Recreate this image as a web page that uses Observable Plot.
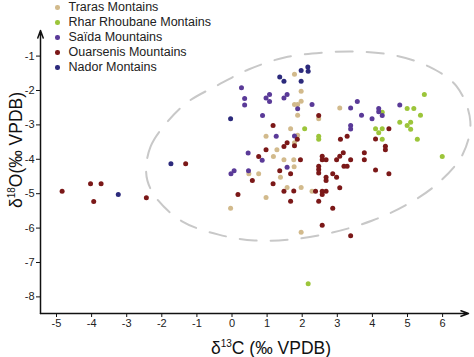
<!DOCTYPE html>
<html>
<head>
<meta charset="utf-8">
<script src="https://cdn.jsdelivr.net/npm/d3@7"></script>
<script src="https://cdn.jsdelivr.net/npm/@observablehq/plot@0.6"></script>
<style>
  html, body { margin: 0; padding: 0; background: #fff; }
  #wrap { position: relative; width: 474px; height: 357px; font-family: "Liberation Sans", Arial, sans-serif; color: #222; }
  #legend { position: absolute; left: 52px; top: 0px; font-size: 12.5px; line-height: 15px; }
  #legend .row { display: flex; align-items: center; height: 15px; }
  #legend .sw { width: 4.5px; height: 4.5px; border-radius: 50%; margin-left: 3px; margin-right: 9px; }
  .title { position: absolute; font-size: 17.5px; white-space: nowrap; color: #111; }
  .title sup { font-size: 10px; vertical-align: 7px; line-height: 0; }
  #xtitle { left: 271px; top: 348px; transform: translate(-50%, -50%); }
  #ytitle { left: 16px; top: 150px; transform: translate(-50%, -50%) rotate(-90deg); }
</style>
</head>
<body>
<div id="wrap">
  <div id="chart"></div>
  <div id="legend"></div>
  <div class="title" id="xtitle">δ<sup>13</sup>C (‰ VPDB)</div>
  <div class="title" id="ytitle">δ<sup>18</sup>O(‰ VPDB)</div>
</div>
<script>
// Series names and colours
const seriesNames = ["Traras Montains", "Rhar Rhoubane Montains", "Saïda Mountains", "Ouarsenis Mountains", "Nador Montains"];
const seriesColors = ["#d2ba8c", "#9cc53a", "#5a3a98", "#7b1818", "#2c2a7c"];

// [δ13C, δ18O] pairs
const traras = [
  [1.78,-1.53],[1.97,-2.02],[1.97,-2.31],[1.87,-2.41],[1.78,-2.41],[1.87,-2.72],[1.67,-3.11],
  [0.97,-3.33],[1.87,-3.30],[1.78,-3.52],[1.28,-3.72],[1.18,-3.92],[1.48,-4.01],[1.76,-4.01],
  [1.77,-4.22],[0.48,-4.42],[0.76,-4.42],[1.38,-4.52],[1.57,-4.82],[1.97,-4.82],[2.28,-4.93],
  [0.97,-5.11],[-0.04,-5.42],[1.97,-6.12],[3.07,-2.51],[2.47,-2.82]
];
const rharRhoubane = [
  [2.07,-3.11],[2.47,-3.33],[2.47,-3.42],[4.28,-2.63],[4.99,-2.52],[5.18,-2.52],[5.48,-2.12],
  [5.37,-2.72],[4.78,-2.92],[5.09,-2.92],[4.99,-3.02],[5.09,-3.13],[5.28,-3.42],[4.09,-3.11],
  [4.28,-3.11],[4.18,-3.23],[4.28,-3.42],[5.99,-3.92],[2.17,-7.62]
];
const saida = [
  [0.27,-1.92],[0.36,-2.23],[0.36,-2.42],[0.97,-2.22],[1.07,-2.12],[1.07,-2.32],[1.48,-2.22],
  [1.57,-2.12],[1.87,-2.53],[0.87,-2.73],[1.26,-3.33],[1.78,-3.32],[0.46,-3.82],[0.86,-4.03],
  [1.57,-4.23],[0.06,-4.33],[-0.03,-4.42],[0.47,-4.33],[2.28,-2.41],[3.38,-2.51],[3.57,-2.32],
  [3.69,-2.72],[3.99,-2.82],[4.18,-2.52],[4.18,-2.62],[4.28,-2.73],[4.78,-2.42],[3.38,-3.02],[3.38,-3.12]
];
const ouarsenis = [
  [-4.84,-4.93],[-4.03,-4.71],[-3.73,-4.71],[-3.94,-5.23],[-2.44,-5.12],[-1.32,-4.13],
  [1.17,-3.02],[1.86,-3.42],[1.57,-3.52],[1.48,-3.63],[1.78,-3.61],[0.97,-3.72],[0.76,-3.92],
  [1.95,-4.01],[1.36,-4.33],[1.67,-4.42],[0.58,-4.62],[1.17,-4.71],[1.76,-4.92],[1.48,-4.93],
  [0.17,-5.02],[2.47,-2.73],[3.09,-3.42],[3.28,-3.33],[2.57,-3.91],[2.57,-4.01],[2.68,-4.01],
  [3.17,-3.81],[3.07,-3.91],[2.98,-4.01],[3.38,-4.01],[2.47,-4.20],[2.47,-4.30],[2.47,-4.40],
  [3.19,-4.20],[3.28,-4.20],[2.87,-4.42],[2.68,-4.52],[2.68,-4.62],[2.98,-4.52],[3.07,-4.83],
  [2.38,-4.93],[2.57,-4.93],[2.68,-4.93],[2.57,-5.02],[1.67,-5.22],[2.47,-5.22],[2.87,-5.42],
  [2.57,-5.92],[3.38,-6.22],[4.47,-3.11],[4.09,-3.41],[4.37,-3.62],[4.37,-3.72],[3.77,-3.81],
  [3.77,-4.01],[4.09,-4.31],[4.47,-4.42]
];
const nador = [
  [1.36,-1.61],[1.48,-1.73],[1.97,-1.42],[2.16,-1.32],[2.17,-1.44],[1.97,-1.73],
  [-0.04,-2.82],[-1.74,-4.13],[-3.24,-5.02]
];

// Dashed envelope outline
const envelope = [
  [-2.44,-4.15],[-2.32,-3.63],[-2.04,-3.16],[-1.32,-2.38],[-0.38,-1.83],[0.47,-1.39],[1.50,-1.04],
  [2.58,-0.90],[3.60,-0.87],[4.63,-0.98],[5.60,-1.30],[6.40,-1.88],[6.79,-2.90],[6.57,-3.86],
  [5.83,-4.73],[4.94,-5.34],[4.00,-5.78],[2.86,-6.13],[1.70,-6.33],[0.64,-6.36],[-0.38,-6.19],
  [-1.41,-5.81],[-2.15,-5.14],[-2.41,-4.62]
];

// Axis ticks and extents
const xTicks = [-5,-4,-3,-2,-1,0,1,2,3,4,5,6];
const yTicks = [-1,-2,-3,-4,-5,-6,-7,-8];
const xDomain = [-5.456, 6.738];
const yDomain = [-8.483, -0.256];

const seriesPts = [traras, rharRhoubane, saida, ouarsenis, nador];
const dots = seriesPts.flatMap((pts, i) => pts.map(([x, y]) => ({x, y, s: seriesNames[i]})));

const plot = Plot.plot({
  width: 474,
  height: 357,
  marginLeft: 40,
  marginRight: 6,
  marginTop: 30,
  marginBottom: 44,
  style: {fontFamily: "Liberation Sans, Arial, sans-serif", fontSize: "11px", color: "#222", background: "transparent"},
  x: {domain: xDomain},
  y: {domain: yDomain},
  color: {domain: seriesNames, range: seriesColors},
  marks: [
    Plot.line(envelope, {x: d => d[0], y: d => d[1], curve: "catmull-rom-closed", stroke: "#c8c8c8", strokeWidth: 2, strokeDasharray: "17,14"}),
    Plot.dot(dots, {x: "x", y: "y", fill: "s", r: 2.5}),
    Plot.arrow([{x1: xDomain[0], y1: yDomain[0], x2: xDomain[1], y2: yDomain[0]}], {x1: "x1", y1: "y1", x2: "x2", y2: "y2", stroke: "#111", strokeWidth: 1.5, headLength: 8, headAngle: 40}),
    Plot.arrow([{x1: xDomain[0], y1: yDomain[0], x2: xDomain[0], y2: yDomain[1]}], {x1: "x1", y1: "y1", x2: "x2", y2: "y2", stroke: "#111", strokeWidth: 1.5, headLength: 8, headAngle: 40}),
    Plot.axisX({ticks: xTicks, tickSize: 4, tickPadding: 2, label: null, stroke: "#111", tickFormat: d => String(d)}),
    Plot.axisY({ticks: yTicks, tickSize: 4, tickPadding: 2, label: null, stroke: "#111", tickFormat: d => String(d)})
  ]
});
document.getElementById("chart").appendChild(plot);

const legend = document.getElementById("legend");
seriesNames.forEach((n, i) => {
  const row = document.createElement("div");
  row.className = "row";
  const sw = document.createElement("span");
  sw.className = "sw";
  sw.style.background = seriesColors[i];
  const t = document.createElement("span");
  t.textContent = n;
  row.appendChild(sw);
  row.appendChild(t);
  legend.appendChild(row);
});
</script>
</body>
</html>
